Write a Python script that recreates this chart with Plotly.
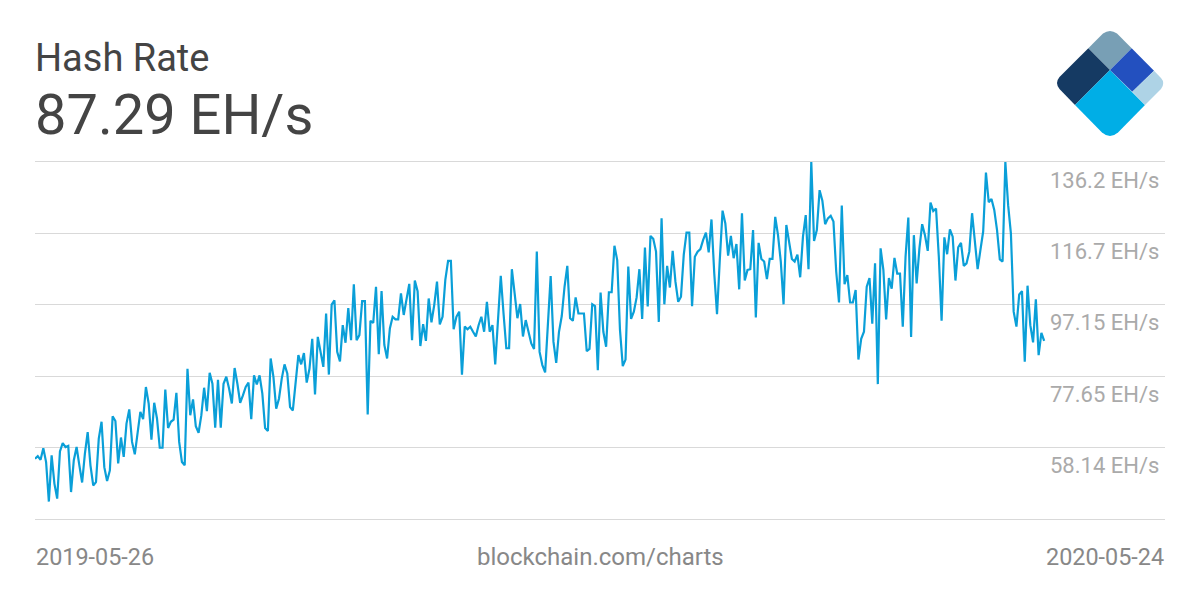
import pandas as pd
import plotly.graph_objects as go

start_date = "2019-05-26"
end_date = "2020-05-24"
axis_end = "2020-07-06 14:00"

# daily hash rate in EH/s
hash_2019_a = [55.1, 55.8, 54.8, 58.0, 54.2, 43.4, 56.0, 48.3, 44.2, 57.1, 59.4, 58.3, 58.6, 46.0, 54.7, 58.3, 53.3, 48.6, 56.5, 62.4,
               53.3, 47.8, 48.7, 60.6, 65.2, 52.8, 49.0, 51.9, 66.7, 65.4, 53.8, 60.9, 55.6, 64.7, 68.6, 59.7, 56.3, 62.4, 67.9, 65.9,
               74.7, 70.2, 60.3, 70.4, 66.1, 58.1, 58.1, 74.0, 63.5, 65.2, 65.8, 73.1, 59.7, 54.2, 53.3, 79.7, 67.0, 71.3, 64.0, 62.2,
               67.0, 74.5, 68.1, 78.6]
hash_2019_b = [75.6, 63.6, 76.7, 63.6, 75.6, 77.5, 74.3, 70.2, 79.9, 75.6, 70.4, 72.4, 74.7, 75.9, 65.9, 77.9, 75.4, 77.9, 72.9, 63.5,
               62.7, 82.5, 77.5, 68.8, 71.5, 77.0, 80.9, 78.4, 69.2, 68.3, 77.0, 83.4, 80.9, 84.0, 75.9, 79.7, 87.9, 72.7, 88.4, 84.3,
               80.2, 94.8, 78.1, 97.2, 98.4, 84.3, 81.7, 91.6, 86.8, 96.3, 87.5, 102.8, 87.5, 88.9, 98.2, 98.2, 67.2, 92.8, 92.2, 102.1,
               83.7]
hash_2019_c = [100.9, 86.2, 82.5, 90.7, 93.9, 93.2, 93.2, 100.3, 94.4, 98.5, 102.9, 87.5, 103.8, 100.9, 85.9, 91.9, 87.3, 98.9, 92.4, 97.1,
               103.5, 91.8, 93.9, 104.0, 109.2, 109.2, 90.5, 93.9, 95.3, 78.1, 91.2, 90.5, 91.2, 89.8, 88.5, 91.6, 93.9, 89.8, 98.0, 89.8,
               91.6, 80.9, 93.0, 105.1, 94.8, 85.3, 85.3, 106.9, 100.3, 93.5, 97.4, 88.5, 93.0, 89.3, 86.6, 85.1, 111.7, 84.3, 80.7, 78.7,
               92.1, 105.0]
hash_2020_a = [87.1, 81.3, 89.8, 94.1, 102.1, 107.8, 93.5, 92.8, 99.2, 94.8, 94.8, 94.8, 84.5, 85.1, 97.3, 96.8, 79.3, 100.5, 89.8, 85.7,
               100.6, 100.6, 113.3, 109.4, 90.3, 80.4, 82.2, 107.6, 93.3, 95.3, 99.2, 106.9, 93.3, 112.8, 96.7, 116.0, 115.2, 111.7, 92.5, 120.8,
               97.3, 107.8, 101.9, 111.9, 103.5, 98.0, 99.4, 110.8, 116.9, 116.9, 96.8, 110.3, 111.7, 112.4, 114.9, 116.9, 111.5, 120.5, 105.8, 94.6]
hash_2020_b = [109.4, 122.9, 119.4, 110.6, 116.0, 109.9, 113.8, 101.4, 122.2, 103.8, 106.7, 106.9, 117.6, 93.7, 114.1, 109.7, 109.0, 104.2, 109.7, 109.7,
               121.2, 116.2, 109.0, 97.3, 119.0, 114.9, 109.7, 109.0, 110.9, 104.7, 115.8, 121.7, 106.9, 136.2, 114.6, 117.6, 128.5, 125.6, 119.2, 120.8,
               121.5, 119.9, 106.2, 97.8, 124.3, 102.8, 105.3, 97.8, 97.8, 101.2, 82.2, 87.9, 89.8, 102.1, 104.5, 92.0, 108.5, 75.5, 112.6, 106.7,
               93.2]
hash_2020_c = [104.5, 101.6, 110.0, 105.7, 105.7, 91.2, 110.3, 121.0, 88.4, 116.2, 103.0, 112.6, 119.2, 116.2, 111.9, 125.1, 122.8, 123.5, 110.3, 92.8,
               115.6, 111.0, 117.8, 115.8, 103.8, 112.9, 114.1, 107.8, 108.5, 111.7, 122.2, 113.5, 106.9, 112.1, 117.2, 133.3, 125.2, 126.1, 123.1, 117.6,
               109.6, 109.0, 136.2, 124.4, 116.7, 95.3, 91.2, 100.0, 100.9, 81.6, 102.4, 91.6, 86.9, 98.7, 83.4, 89.5, 87.29]

hash_rate = hash_2019_a + hash_2019_b + hash_2019_c + hash_2020_a + hash_2020_b + hash_2020_c
dates = pd.date_range(start_date, end_date, freq="D")

tick_vals = [136.2, 116.7, 97.15, 77.65, 58.14, 38.63]
tick_text = ["136.2 EH/s", "116.7 EH/s", "97.15 EH/s", "77.65 EH/s", "58.14 EH/s"]

W = 1200
H = 600
left, right, top, bottom = 35, 35, 162, 81


# the logo and titles are placed in page pixels
def px(x):
    return (x - left) / (W - left - right)


def py(y):
    return (H - bottom - y) / (H - top - bottom)


def logo_path(points):
    out = ""
    for cmd, *xy in points:
        out += cmd
        out += " ".join(f"{px(xy[i]):.5f},{py(xy[i + 1]):.5f}" for i in range(0, len(xy), 2)) + " "
    return out + "Z"


logo = [
    ("#789fb5", [("M", 1088.3, 48.3), ("L", 1103, 33.5), ("Q", 1110, 28.5, 1117, 33.5), ("L", 1131.7, 48.3), ("L", 1110, 70)]),
    ("#153a63", [("M", 1088.3, 48.3), ("L", 1110, 70), ("L", 1075, 105), ("L", 1059.5, 89), ("Q", 1054.5, 83, 1059.5, 77)]),
    ("#00aee6", [("M", 1110, 70), ("L", 1145, 105), ("L", 1118, 132.5), ("Q", 1110, 139.5, 1102, 132.5), ("L", 1075, 105)]),
    ("#2350bf", [("M", 1131.7, 48.3), ("L", 1154, 70.7), ("L", 1132.3, 91.7), ("L", 1110, 70)]),
    ("#aed3e6", [("M", 1154, 70.7), ("L", 1161, 78), ("Q", 1165.5, 83, 1161, 89), ("L", 1145, 105), ("L", 1132.3, 91.7)]),
]

fig = go.Figure(go.Scatter(x=dates, y=hash_rate, mode="lines", line=dict(color="#0a9fd8", width=2.2), hoverinfo="skip"))

for color, path in logo:
    fig.add_shape(type="path", xref="paper", yref="paper", path=logo_path(path), fillcolor=color, line_width=0, layer="above")

fig.add_annotation(x=px(34), y=py(58), text="Hash Rate", font=dict(size=38, color="#444444"))
fig.add_annotation(x=px(33.5), y=py(115), text="87.29 EH/s", font=dict(size=56, color="#444444"))
fig.add_annotation(x=px(35), y=py(557), text=start_date, font=dict(size=23.4, color="#888888"))
fig.add_annotation(x=px(600), y=py(557), text="blockchain.com/charts", xanchor="center", font=dict(size=24, color="#888888"))
fig.add_annotation(x=px(1165), y=py(557), text=end_date, xanchor="right", font=dict(size=23.4, color="#888888"))

for val, label in zip(tick_vals, tick_text):
    fig.add_annotation(x=1, xref="paper", y=val, yref="y", text=label, xanchor="right", yanchor="middle",
                       xshift=-5, yshift=-18, font=dict(size=22, color="#aaaaaa"))

fig.update_annotations(showarrow=False, borderpad=0)
for ann in fig.layout.annotations:
    if ann.xanchor is None:
        ann.xanchor = "left"
    if ann.yref != "y":
        ann.yref = "paper"
        ann.xref = "paper"
        ann.yanchor = "middle"

fig.update_layout(
    width=W,
    height=H,
    autosize=False,
    margin=dict(l=left, r=right, t=top, b=bottom, pad=0),
    paper_bgcolor="white",
    plot_bgcolor="white",
    showlegend=False,
    font=dict(family="Roboto"),
    xaxis=dict(range=[start_date, axis_end], showgrid=False, zeroline=False, showticklabels=False, ticks="",
               showline=True, mirror=True, linecolor="#d9d9d9", linewidth=1),
    yaxis=dict(range=[tick_vals[-1], tick_vals[0]], tickvals=tick_vals, showticklabels=False, ticks="",
               showgrid=True, gridcolor="#d9d9d9", gridwidth=1, zeroline=False, showline=False),
)

# page margin would push the chart 8px off
fig.write_html("out.html", config={"displayModeBar": False}, post_script="document.body.style.margin = '0';")
